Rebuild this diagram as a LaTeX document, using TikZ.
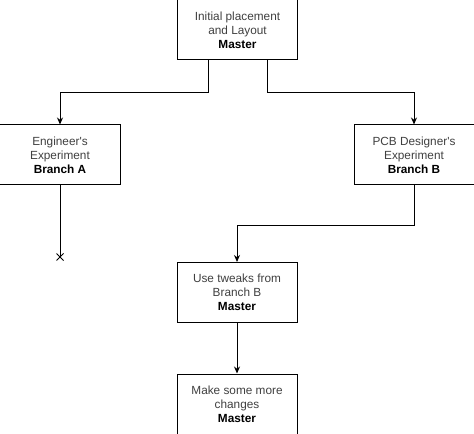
\documentclass[tikz,border=0pt]{standalone}
\usepackage{fontspec}
\setmainfont{Liberation Sans}
\newfontfamily\boxfont{Liberation Sans}
\usetikzlibrary{arrows.meta}
\begin{document}
\begin{tikzpicture}[x=1bp,y=-1bp,
  box/.style={draw=black,line width=1bp,fill=white,minimum width=120bp,minimum height=60bp,inner sep=0pt,align=center,text=black!75,font=\boxfont\fontsize{11.8bp}{13.8bp}\selectfont},
  conn/.style={draw=black,line width=1bp},
  arr/.style={conn,-{Stealth[length=7bp,width=6bp]}}]
\useasboundingbox (0,0) rectangle (474,434);
\node[box] (top) at (237.5,30) {Initial placement\\and Layout\\\textbf{\color{black}Master}};
\node[box] (a) at (60,155) {Engineer's\\Experiment\\\textbf{\color{black}Branch A}};
\node[box] (b) at (414,155) {PCB Designer's\\Experiment\\\textbf{\color{black}Branch B}};
\node[box] (c) at (237,292.5) {Use tweaks from\\Branch B\\\textbf{\color{black}Master}};
\node[box] (d) at (237,404) {Make some more\\changes\\\textbf{\color{black}Master}};
\coordinate (aend) at (60,257);
\draw[arr] ([xshift=-29.5bp]top.south) |- (60,93) -- (a.north);
\draw[arr] ([xshift=29.5bp]top.south) |- (414,93) -- (b.north);
\draw[conn] (a.south) -- (aend);
\draw[conn] ([shift={(-3.5,-3.5)}]aend) -- ([shift={(3.5,3.5)}]aend);
\draw[conn] ([shift={(-3.5,3.5)}]aend) -- ([shift={(3.5,-3.5)}]aend);
\draw[arr] (b.south) |- (237,225) -- (c.north);
\draw[arr] (c.south) -- (d.north);
\end{tikzpicture}
\end{document}
